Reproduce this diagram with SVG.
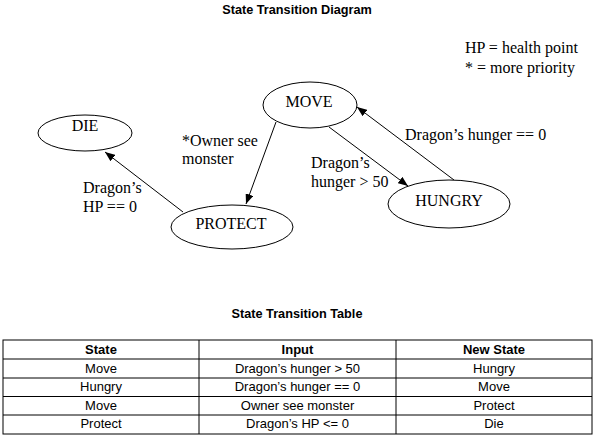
<svg xmlns="http://www.w3.org/2000/svg" width="596" height="437" viewBox="0 0 596 437">
<style>
  .title { font-family: "Liberation Sans", Arial, sans-serif; font-weight: bold; font-size: 12.7px; fill: #000; text-anchor: middle; }
  .node ellipse { fill: #fff; stroke: #000; stroke-width: 1; }
  .node text { font-family: "Liberation Serif", "Times New Roman", serif; font-size: 16px; fill: #000; text-anchor: middle; }
  .lbl { font-family: "Liberation Serif", "Times New Roman", serif; font-size: 16px; fill: #000; }
  .edge { stroke: #000; stroke-width: 1; fill: none; marker-end: url(#arr); }
  .cell { font-family: "Liberation Sans", Arial, sans-serif; font-size: 13px; fill: #000; text-anchor: middle; }
  .hdr { font-weight: bold; }
  .grid { stroke: #000; stroke-width: 1; fill: none; }
</style>
<defs>
  <marker id="arr" markerUnits="userSpaceOnUse" markerWidth="10" markerHeight="8" refX="10" refY="4" orient="auto">
    <path d="M0,0 L10,4 L0,8 z" fill="#000"/>
  </marker>
</defs>
<rect x="0" y="0" width="596" height="437" fill="#fff"/>
<text class="title" x="297" y="14">State Transition Diagram</text>

<g id="connectors">
  <line class="edge" x1="183" y1="212" x2="105" y2="152"/>
  <line class="edge" x1="276" y1="122" x2="246" y2="204"/>
  <line class="edge" x1="329" y1="127" x2="408" y2="186"/>
  <line class="edge" x1="454" y1="180" x2="357" y2="107"/>
</g>

<g id="node-die" class="node">
  <ellipse cx="85" cy="133" rx="47" ry="18"/>
  <text x="85" y="131">DIE</text>
</g>
<g id="node-protect" class="node">
  <ellipse cx="232" cy="227" rx="61" ry="22"/>
  <text x="231" y="229">PROTECT</text>
</g>
<g id="node-move" class="node">
  <ellipse cx="310" cy="105" rx="47" ry="23"/>
  <text x="309" y="107">MOVE</text>
</g>
<g id="node-hungry" class="node">
  <ellipse cx="449" cy="204" rx="61" ry="24"/>
  <text x="449" y="206">HUNGRY</text>
</g>

<g id="labels">
  <text class="lbl" x="182" y="146">*Owner see</text>
  <text class="lbl" x="182" y="164">monster</text>
  <text class="lbl" x="83" y="193">Dragon’s</text>
  <text class="lbl" x="83" y="212">HP == 0</text>
  <text class="lbl" x="311" y="168">Dragon’s</text>
  <text class="lbl" x="311" y="187">hunger &gt; 50</text>
  <text class="lbl" x="405" y="140">Dragon’s hunger == 0</text>
  <text class="lbl" x="465" y="53">HP = health point</text>
  <text class="lbl" x="465" y="73">* = more priority</text>
</g>

<text class="title" x="297" y="317.5">State Transition Table</text>

<g id="table">
  <rect class="grid" x="3" y="340" width="589" height="94"/>
  <line class="grid" x1="199" y1="340" x2="199" y2="434"/>
  <line class="grid" x1="396" y1="340" x2="396" y2="434"/>
  <line class="grid" x1="3" y1="359" x2="592" y2="359"/>
  <line class="grid" x1="3" y1="378" x2="592" y2="378"/>
  <line class="grid" x1="3" y1="396.5" x2="592" y2="396.5"/>
  <line class="grid" x1="3" y1="415" x2="592" y2="415"/>

  <text class="cell hdr" x="101" y="354">State</text>
  <text class="cell hdr" x="297.5" y="354">Input</text>
  <text class="cell hdr" x="494" y="354">New State</text>

  <text class="cell" x="101" y="372.5">Move</text>
  <text class="cell" x="297.5" y="372.5">Dragon’s hunger &gt; 50</text>
  <text class="cell" x="494" y="372.5">Hungry</text>

  <text class="cell" x="101" y="391">Hungry</text>
  <text class="cell" x="297.5" y="391">Dragon’s hunger == 0</text>
  <text class="cell" x="494" y="391">Move</text>

  <text class="cell" x="101" y="409.5">Move</text>
  <text class="cell" x="297.5" y="409.5">Owner see monster</text>
  <text class="cell" x="494" y="409.5">Protect</text>

  <text class="cell" x="101" y="428">Protect</text>
  <text class="cell" x="297.5" y="428">Dragon’s HP &lt;= 0</text>
  <text class="cell" x="494" y="428">Die</text>
</g>
</svg>
